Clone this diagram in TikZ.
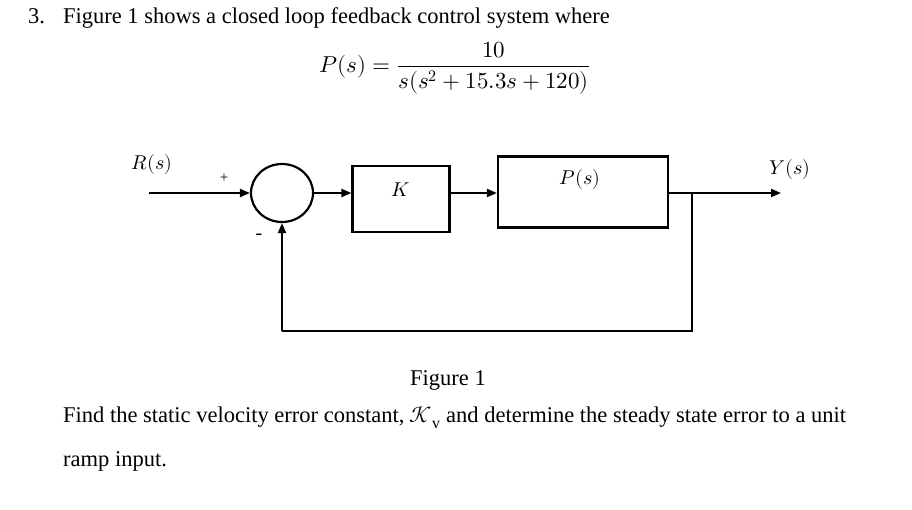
\documentclass[tikz,border=0pt]{standalone}
\usepackage{fontspec}
\setmainfont{Liberation Serif}
\usepackage{unicode-math}
\setmathfont{Latin Modern Math}
\usetikzlibrary{arrows.meta,shapes.geometric}
\begin{document}
\begin{tikzpicture}[x=1pt,y=-1pt,
  blk/.style={draw,line width=2.2pt,inner sep=0pt},
  sig/.style={line width=2pt,-{Triangle[length=10pt,width=8pt]}},
  wire/.style={line width=2pt},
  txt/.style={font=\fontsize{22.5}{26}\selectfont,anchor=west,inner sep=0pt},
  lab/.style={font=\fontsize{20}{24}\selectfont,inner sep=0pt}]
\useasboundingbox (0,0) rectangle (912,510);
\node[txt] (t1) at (28,18) {3.\hspace{18pt}Figure 1 shows a closed loop feedback control system where};
\node[font=\fontsize{23}{27}\selectfont,inner sep=0pt] (eq) at (455,68) {$P(s)=\dfrac{10}{s(s^2+15.3s+120)}$};
\node[blk,ellipse,minimum width=62pt,minimum height=58pt] (sum) at (282,193) {};
\node[blk,minimum width=97pt,minimum height=66pt] (k) at (401,199) {};
\node[lab] (kl) at (401,190) {$K$};
\node[blk,minimum width=170pt,minimum height=71pt] (p) at (583,192) {};
\node[lab] (pl) at (580,180) {$P(s)$};
\coordinate (in) at (149,193);
\coordinate (out) at (781,193);
\coordinate (tap) at (692,193);
\coordinate (bl) at (282,331);
\coordinate (br) at (692,331);
\draw[sig] (in) -- (sum.west);
\draw[sig] (sum.east) -- (sum.east -| k.west);
\draw[sig] (k.east |- 193,193) -- (p.west |- 193,193);
\draw[sig] (p.east |- 193,193) -- (out);
\draw[wire] (tap) -- (br) -- (bl);
\draw[sig] (bl) -- (sum.south);
\node[lab] (r) at (152,165) {$R(s)$};
\node[lab,font=\fontsize{15}{18}\selectfont] (plus) at (224,178) {+};
\node[lab] (minus) at (259,237) {-};
\node[lab] (y) at (790,170) {$Y(s)$};
\node[txt,anchor=center] (f1) at (448,380) {Figure 1};
\node[txt] (t2) at (63,418) {Find the static velocity error constant, $\mathcal{K}_{\mathrm{v}}$ and determine the steady state error to a unit};
\node[txt] (t3) at (63,461) {ramp input.};
\end{tikzpicture}
\end{document}
